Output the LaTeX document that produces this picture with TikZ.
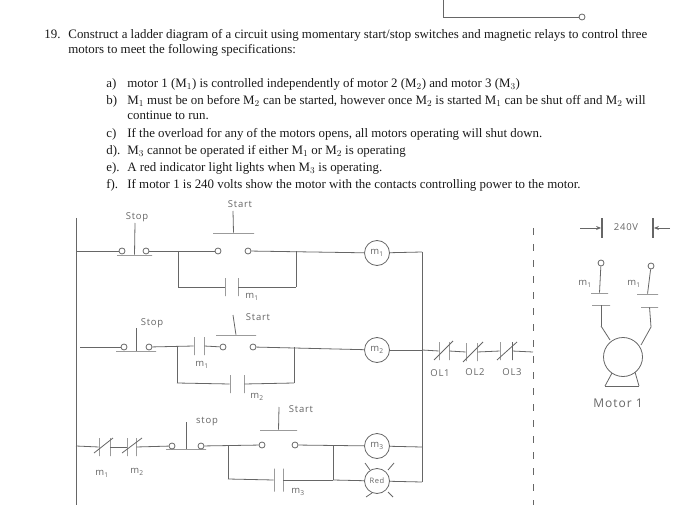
\documentclass[tikz,border=0pt]{standalone}
\usepackage{fontspec}
\setmainfont{Liberation Serif}
\newfontfamily\handfont[LetterSpace=8]{Open Sans}
\usetikzlibrary{arrows.meta}
\definecolor{pencil}{gray}{0.40}
\definecolor{printed}{gray}{0.10}
\tikzset{
  term/.style={circle,draw,inner sep=0pt,minimum size=6pt,fill=white},
  coil/.style={circle,draw,inner sep=0pt,minimum size=25pt},
  plate/.style={rectangle,draw,inner sep=0pt,minimum width=0pt,minimum height=18pt},
  pushbar/.style={rectangle,draw,inner sep=0pt,minimum height=0pt},
  hand/.style={inner sep=0pt,text=pencil,font=\handfont\fontsize{9.5}{11}\selectfont},
  prose/.style={anchor=base west,inner sep=0pt,text=printed,font=\fontsize{12.9}{14}\selectfont}
}
\begin{document}
\begin{tikzpicture}[x=1pt,y=-1pt,color=pencil,line width=0.8pt]
  \useasboundingbox (0,0) rectangle (700,526);

  % question text
  \node[prose] (Qnum) at (44,39)  {19.};
  \node[prose] (Q1)   at (68,39)  {Construct a ladder diagram of a circuit using momentary start/stop switches and magnetic relays to control three};
  \node[prose] (Q2)   at (68,54)  {motors to meet the following specifications:};
  \node[prose] (La)   at (106,88) {a)};
  \node[prose] (Ta)   at (127,88) {motor 1 (M$_1$) is controlled independently of motor 2 (M$_2$) and motor 3 (M$_3$)};
  \node[prose] (Lb)   at (106,105) {b)};
  \node[prose] (Tb)   at (127,105) {M$_1$ must be on before M$_2$ can be started, however once M$_2$ is started M$_1$ can be shut off and M$_2$ will};
  \node[prose] (Tb2)  at (127,120) {continue to run.};
  \node[prose] (Lc)   at (106,138) {c)};
  \node[prose] (Tc)   at (127,138) {If the overload for any of the motors opens, all motors operating will shut down.};
  \node[prose] (Ld)   at (106,155) {d).};
  \node[prose] (Td)   at (127,155) {M$_3$ cannot be operated if either M$_1$ or M$_2$ is operating};
  \node[prose] (Le)   at (106,172) {e).};
  \node[prose] (Te)   at (127,172) {A red indicator light lights when M$_3$ is operating.};
  \node[prose] (Lf)   at (106,189) {f).};
  \node[prose] (Tf)   at (127,189) {If motor 1 is 240 volts show the motor with the contacts controlling power to the motor.};

  % leftover of the drawing above the question
  \coordinate (Ltop) at (443,0);
  \coordinate (Lcor) at (443,17);
  \node[term] (Lend) at (582,17) {};
  \draw (Ltop) -- (Lcor) -- (Lend);

  % rails
  \coordinate (RailT) at (76,218);
  \coordinate (RailB) at (76,505);
  \coordinate (RetT)  at (422,252);
  \coordinate (RetB)  at (422,482);
  \coordinate (DashT) at (533,228);
  \coordinate (DashB) at (533,505);
  \draw[line width=1pt] (RailT) -- (RailB);
  \draw[line width=1pt] (RetT) -- (RetB);
  \draw[dash pattern=on 7pt off 9pt] (DashT) -- (DashB);

  % rung 1
  \coordinate (A0) at (76,251);
  \node[term] (A1) at (122,251) {};
  \node[term] (A2) at (146,251) {};
  \node[term] (A3) at (218,251) {};
  \node[term] (A4) at (248,251) {};
  \node[coil,hand] (M1) at (377,253) {m\textsubscript{1}};
  \coordinate (A5) at (178,251);
  \coordinate (A6) at (296,251);
  \coordinate (A7) at (178,287);
  \coordinate (A8) at (296,287);
  \node[plate] (AP1) at (225,287) {};
  \node[plate] (AP2) at (238,287) {};
  \node[pushbar,minimum width=35pt] (AB1) at (134.5,255) {};
  \node[pushbar,minimum width=41pt] (AB2) at (233.5,233) {};
  \coordinate (AS1) at (135,223);
  \coordinate (AS2) at (233,211);
  \node[hand] (Astop)  at (137,217) {Stop};
  \node[hand] (Astart) at (240,204) {Start};
  \node[hand] (Am1)    at (252,297) {m\textsubscript{1}};
  \path (A0) edge (A1)
        (A2) edge (A3)
        (A4) edge (M1)
        (M1) edge (RetT)
        (A5) edge (A7)
        (A7) edge (AP1)
        (AP2) edge (A8)
        (A8) edge (A6)
        (AS1) edge (AB1)
        (AS2) edge (AB2);

  % rung 2
  \coordinate (B0) at (80,347);
  \node[term] (B1) at (124,347) {};
  \node[term] (B2) at (149,347) {};
  \node[plate] (BP1) at (194,346) {};
  \node[plate] (BP2) at (204,346) {};
  \node[term] (B3) at (223,347) {};
  \node[term] (B4) at (253,347) {};
  \node[coil,hand] (M2) at (377,350) {m\textsubscript{2}};
  \coordinate (B5) at (177,347);
  \coordinate (B6) at (294,347);
  \coordinate (B7) at (177,383);
  \coordinate (B8) at (294,383);
  \node[plate] (BP3) at (230,384) {};
  \node[plate] (BP4) at (244,384) {};
  \node[pushbar,minimum width=40pt] (BB1) at (136,351) {};
  \node[pushbar,minimum width=40pt] (BB2) at (236,335) {};
  \coordinate (BS1) at (136,328);
  \coordinate (BS2) at (233,315);
  \node[hand] (Bstop)  at (152,323) {Stop};
  \node[hand] (Bstart) at (258,317) {Start};
  \node[hand] (Bm1)    at (202,365) {m\textsubscript{1}};
  \node[hand] (Bm2)    at (257,397) {m\textsubscript{2}};
  \path (B0) edge (B1)
        (B2) edge (BP1)
        (BP2) edge (B3)
        (B4) edge (M2)
        (B5) edge (B7)
        (B7) edge (BP3)
        (BP4) edge (B8)
        (B8) edge (B6)
        (BS1) edge (BB1)
        (BS2) edge (BB2);

  % overload contacts
  \coordinate (Dcross) at (422,350);
  \coordinate (Dend) at (533,352);
  \node[plate] (O1a) at (439,351) {};
  \node[plate] (O1b) at (449,351) {};
  \node[plate] (O2a) at (466,352) {};
  \node[plate] (O2b) at (477,352) {};
  \node[plate] (O3a) at (500,351) {};
  \node[plate] (O3b) at (512,351) {};
  \coordinate (O1s) at (434,360);
  \coordinate (O1e) at (453,341);
  \coordinate (O2s) at (463,362);
  \coordinate (O2e) at (483,342);
  \coordinate (O3s) at (497,360);
  \coordinate (O3e) at (517,342);
  \node[hand] (OL1) at (440,373) {OL1};
  \node[hand] (OL2) at (475,372) {OL2};
  \node[hand] (OL3) at (512,372) {OL3};
  \path (M2) edge (Dcross)
        (Dcross) edge (O1a)
        (O1b) edge (O2a)
        (O2b) edge (O3a)
        (O3b) edge (Dend)
        (O1s) edge (O1e)
        (O2s) edge (O2e)
        (O3s) edge (O3e);

  % rung 3
  \coordinate (C0) at (76,446);
  \node[plate] (CP1) at (99,447) {};
  \node[plate] (CP2) at (110,447) {};
  \node[plate] (CP3) at (127,447) {};
  \node[plate] (CP4) at (136,447) {};
  \coordinate (CS1) at (94,453);
  \coordinate (CE1) at (113,438);
  \coordinate (CS2) at (122,453);
  \coordinate (CE2) at (142,438);
  \node[term] (C1) at (172,446) {};
  \node[term] (C2) at (201,446) {};
  \node[term] (C3) at (262,445) {};
  \node[term] (C4) at (295,445) {};
  \node[coil,hand] (M3) at (377,446) {m\textsubscript{3}};
  \node[coil,hand,font=\handfont\fontsize{7.5}{9}\selectfont] (Red) at (377,481) {Red};
  \coordinate (C5) at (228,446);
  \coordinate (C6) at (333,446);
  \coordinate (C7) at (228,479);
  \coordinate (C8) at (333,480);
  \node[plate,minimum height=23pt] (CP5) at (274,480) {};
  \node[plate,minimum height=23pt] (CP6) at (283,480) {};
  \node[pushbar,minimum width=40pt] (CB1) at (186,449) {};
  \node[pushbar,minimum width=37pt] (CB2) at (278.5,430) {};
  \coordinate (CT1) at (186,422);
  \coordinate (CT2) at (279,407);
  \coordinate (CX1) at (365,463);
  \coordinate (CX2) at (370,470);
  \coordinate (CX3) at (394,463);
  \coordinate (CX4) at (388,470);
  \coordinate (CX5) at (366,497);
  \coordinate (CX6) at (372,493);
  \coordinate (CX7) at (393,497);
  \coordinate (CX8) at (388,492);
  \coordinate (C9)  at (422,447);
  \coordinate (C10) at (422,482);
  \node[hand] (Cstop)  at (207,422) {stop};
  \node[hand] (Cstart) at (301,409) {Start};
  \node[hand] (Cm1)    at (102,474) {m\textsubscript{1}};
  \node[hand] (Cm2)    at (137,472) {m\textsubscript{2}};
  \node[hand] (Cm3)    at (298,492) {m\textsubscript{3}};
  \path (C0) edge (CP1)
        (CP2) edge (CP3)
        (CP4) edge (C1)
        (C2) edge (C3)
        (C4) edge (M3)
        (M3) edge (C9)
        (Red) edge (C10)
        (C5) edge (C7)
        (C7) edge (CP5)
        (CP6) edge (C8)
        (C8) edge (Red)
        (C6) edge (C8)
        (CS1) edge (CE1)
        (CS2) edge (CE2)
        (CT1) edge (CB1)
        (CT2) edge (CB2)
        (CX1) edge (CX2)
        (CX3) edge (CX4)
        (CX5) edge (CX6)
        (CX7) edge (CX8);

  % motor 1 with its contacts
  \node[hand] (Volt) at (626,227) {240V};
  \node[pushbar,minimum height=19pt] (VL) at (602,228) {};
  \node[pushbar,minimum height=19pt] (VR) at (653,228) {};
  \coordinate (VLs) at (580,228);
  \coordinate (VRs) at (670,228);
  \draw[-{Stealth[length=5pt,width=4pt]}] (VLs) -- (VL);
  \draw[-{Stealth[length=5pt,width=4pt]}] (VRs) -- (VR);
  \node[term] (FL) at (601,263) {};
  \node[term] (FR) at (651,266) {};
  \node[pushbar,minimum width=17pt] (FL1) at (599.5,293) {};
  \node[pushbar,minimum width=18pt] (FL2) at (601,305) {};
  \node[pushbar,minimum width=21pt] (FR1) at (647.5,294) {};
  \node[pushbar,minimum width=17pt] (FR2) at (649.5,307) {};
  \coordinate (GL) at (601,326);
  \coordinate (GR) at (651,327);
  \node[circle,draw,inner sep=0pt,minimum size=39pt] (Motor) at (623,357) {};
  \coordinate (HL) at (610,340);
  \coordinate (HR) at (641,345);
  \coordinate (BaseA) at (612,373);
  \coordinate (BaseB) at (605,386);
  \coordinate (BaseC) at (639,386);
  \coordinate (BaseD) at (635,372);
  \node[hand,font=\handfont\fontsize{12}{14}\selectfont] (MotorL) at (618,403) {Motor 1};
  \node[hand] (FLm) at (585,284) {m\textsubscript{1}};
  \node[hand] (FRm) at (634,284) {m\textsubscript{1}};
  \path (FL) edge (FL1)
        (FR) edge (FR1)
        (FL2) edge (GL)
        (FR2) edge (GR)
        (GL) edge (HL)
        (GR) edge (HR)
        (BaseA) edge (BaseB)
        (BaseB) edge (BaseC)
        (BaseC) edge (BaseD);
\end{tikzpicture}
\end{document}
